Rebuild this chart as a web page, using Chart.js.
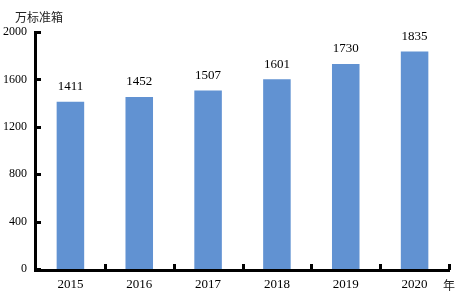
<!DOCTYPE html>
<html>
<head>
<meta charset="utf-8">
<script src="https://cdn.jsdelivr.net/npm/chart.js@4/dist/chart.umd.min.js"></script>
<style>
html,body{margin:0;padding:0;background:#fff;}
#wrap{width:458px;height:296px;position:relative;}
</style>
</head>
<body>
<div id="wrap"><canvas id="c" width="458" height="296"></canvas></div>
<script>
const categories = ['2015', '2016', '2017', '2018', '2019', '2020'];
const throughput = [1411, 1452, 1507, 1601, 1730, 1835];
const yTicks = [0, 400, 800, 1200, 1600, 2000];
const yUnit = '万标准箱';
const xUnit = '年';

const SERIF = '"Liberation Serif", "Times New Roman", serif';
const CJK = '"Noto Sans CJK SC", sans-serif';

const decor = {
  id: 'decor',
  afterDatasetsDraw(chart) {
    const ctx = chart.ctx;
    const ca = chart.chartArea;
    const ys = chart.scales.y;
    ctx.save();
    // value labels
    ctx.fillStyle = '#000';
    ctx.font = '13px ' + SERIF;
    ctx.textAlign = 'center';
    ctx.textBaseline = 'middle';
    chart.getDatasetMeta(0).data.forEach((bar, i) => {
      ctx.fillText(String(throughput[i]), bar.x, bar.y - 15);
    });
    // axes
    ctx.fillStyle = '#000';
    ctx.fillRect(ca.left - 2, ca.top - 1, 3, ca.bottom - ca.top + 3);
    ctx.fillRect(ca.left - 2, ca.bottom, ca.right - ca.left + 3, 3);
    // y ticks (inward)
    yTicks.forEach(v => {
      const y = Math.round(ys.getPixelForValue(v));
      ctx.fillRect(ca.left, y - 1, 5, 3);
    });
    // x ticks at category boundaries (upward)
    const step = (ca.right - ca.left) / categories.length;
    for (let i = 1; i <= categories.length; i++) {
      const x = Math.round(ca.left + i * step);
      ctx.fillRect(x - 1, ca.bottom - 5, 3, 6);
    }
    // unit labels
    ctx.fillStyle = '#222';
    ctx.font = '12px ' + CJK;
    ctx.textAlign = 'left';
    ctx.textBaseline = 'middle';
    ctx.fillText(yUnit, 15, 17);
    ctx.fillText(xUnit, 443, 285);
    ctx.restore();
  }
};

new Chart(document.getElementById('c'), {
  type: 'bar',
  data: {
    labels: categories,
    datasets: [{
      data: throughput,
      backgroundColor: '#6192d2',
      borderWidth: 0,
      barPercentage: 0.4,
      categoryPercentage: 1.0
    }]
  },
  options: {
    responsive: false,
    animation: false,
    layout: { padding: { top: 32, right: 9, bottom: 0, left: 0 } },
    plugins: { legend: { display: false }, tooltip: { enabled: false } },
    scales: {
      x: {
        grid: { display: false, drawTicks: false },
        border: { display: false },
        ticks: { color: '#000', font: { family: SERIF, size: 13 }, padding: 8, maxRotation: 0 },
        afterFit(s) { s.height = 27; }
      },
      y: {
        min: 0, max: 2000,
        afterBuildTicks(s) { s.ticks = yTicks.map(v => ({ value: v })); },
        grid: { display: false, drawTicks: false },
        border: { display: false },
        ticks: { color: '#000', font: { family: SERIF, size: 12 }, padding: 9, callback: v => String(v) },
        afterFit(s) { s.width = 36; }
      }
    }
  },
  plugins: [decor]
});
</script>
</body>
</html>
